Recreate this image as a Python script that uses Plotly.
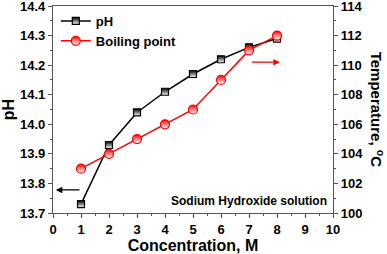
import plotly.graph_objects as go

conc = [1, 2, 3, 4, 5, 6, 7, 8]
ph = [13.73, 13.93, 14.04, 14.11, 14.17, 14.22, 14.26, 14.29]
boiling = [103, 104, 105, 106, 107, 109, 111, 112]

FONT = "Liberation Sans, Arial, sans-serif"

fig = go.Figure()
fig.add_trace(go.Scatter(
    x=conc, y=ph, name="<b>pH</b>", mode="lines+markers",
    line=dict(color="black", width=1.5),
    marker=dict(symbol="square", size=7, color="black",
                gradient=dict(type="vertical", color="white"),
                line=dict(color="black", width=1.2)),
    yaxis="y"))
fig.add_trace(go.Scatter(
    x=conc, y=boiling, name="<b>Boiling point</b>", mode="lines+markers",
    line=dict(color="red", width=1.5),
    marker=dict(symbol="circle", size=9, color="red",
                gradient=dict(type="vertical", color="white"),
                line=dict(color="red", width=1.2)),
    yaxis="y2"))

axis_common = dict(showline=True, linecolor="#555", linewidth=1.2, ticks="outside",
                   tickcolor="#555", ticklen=4, showgrid=False, zeroline=False,
                   automargin=False, ticklabeloverflow="allow",
                   tickfont=dict(family=FONT, size=13, color="black", weight="bold"))

fig.update_layout(
    width=387, height=254,
    margin=dict(l=53, r=54, t=6, b=41, autoexpand=False),
    paper_bgcolor="white", plot_bgcolor="white",
    font=dict(family=FONT, color="black"),
    showlegend=True,
    legend=dict(x=0.01, y=1.0, xanchor="left", yanchor="top", bgcolor="rgba(0,0,0,0)",
                font=dict(family=FONT, size=13, color="black"), tracegroupgap=0,
                itemwidth=30),
    xaxis=dict(range=[0, 10], dtick=1, mirror=True,
               minor=dict(dtick=0.5, ticklen=2, ticks="outside", tickcolor="#555"),
               title=dict(text="<b>Concentration, M</b>", font=dict(family=FONT, size=16), standoff=0),
               **axis_common),
    yaxis=dict(range=[13.7, 14.4], dtick=0.1, tickformat=".1f",
               minor=dict(dtick=0.05, ticklen=2, ticks="outside", tickcolor="#555"),
               title=dict(text="<b>pH</b>", font=dict(family=FONT, size=16), standoff=4),
               **axis_common),
    yaxis2=dict(range=[100, 114], dtick=2, overlaying="y", side="right",
                minor=dict(dtick=1, ticklen=2, ticks="outside", tickcolor="#555"),
                **axis_common),
)

fig.add_annotation(x=1.16, y=0.5, xref="paper", yref="paper", xanchor="center",
                   text="<b>Temperature, <sup>o</sup>C</b>", textangle=90, showarrow=False,
                   font=dict(family=FONT, size=15, color="black"))
fig.add_annotation(x=9.85, y=13.74, xref="x", yref="y", xanchor="right",
                   text="<b>Sodium Hydroxide solution</b>", showarrow=False,
                   font=dict(family=FONT, size=12, color="black"))
fig.add_annotation(x=0.1, y=13.778, xref="x", yref="y", ax=1.0, ay=13.778,
                   axref="x", ayref="y", showarrow=True, arrowhead=2, arrowsize=1,
                   arrowwidth=1.3, arrowcolor="black", text="")
fig.add_annotation(x=8.1, y=110.2, xref="x", yref="y2", ax=7.05, ay=110.2,
                   axref="x", ayref="y2", showarrow=True, arrowhead=2, arrowsize=1,
                   arrowwidth=1.3, arrowcolor="red", text="")

fig.write_html("out.html", config={"displayModeBar": False},
               post_script="document.body.style.margin='0';document.body.style.overflow='hidden';window.scrollTo(0,0);")
